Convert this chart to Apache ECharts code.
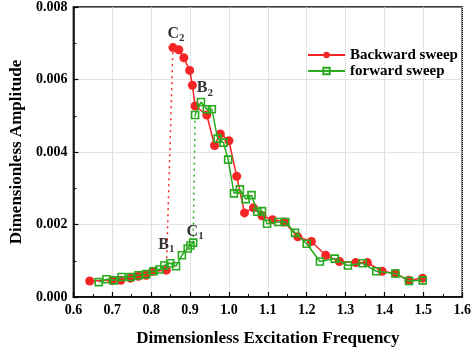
<!DOCTYPE html>
<html>
<head>
<meta charset="utf-8">
<script src="https://cdn.jsdelivr.net/npm/echarts@6/dist/echarts.min.js"></script>
<style>
  html, body { margin: 0; padding: 0; background: #fff; }
  #chart { width: 474px; height: 352px; }
</style>
</head>
<body>
<div id="chart"></div>
<script>
  // backward sweep, lower branch (0.64 -> B1)
  var backLowF = [0.642, 0.700, 0.722, 0.747, 0.767, 0.787, 0.804, 0.839];
  var backLowA = [0.00044, 0.00046, 0.00046, 0.00052, 0.00057, 0.00060, 0.00071, 0.00074];
  // backward sweep, upper branch (C2 -> 1.5)
  var backHighF = [0.856, 0.871, 0.884, 0.899, 0.906, 0.913, 0.943, 0.963, 0.978, 1.000, 1.020, 1.040,
    1.063, 1.085, 1.112, 1.142, 1.177, 1.212, 1.249, 1.284, 1.326, 1.356, 1.394, 1.428, 1.463, 1.498];
  var backHighA = [0.00688, 0.00682, 0.00660, 0.00625, 0.00584, 0.00527, 0.00502, 0.00418, 0.00450, 0.00431, 0.00333, 0.00232,
    0.00246, 0.00224, 0.00213, 0.00207, 0.00166, 0.00153, 0.00115, 0.00098, 0.00095, 0.00095, 0.00071, 0.00065, 0.00046, 0.00052];
  // forward sweep, lower branch (0.66 -> C1)
  var fwdLowF = [0.665, 0.685, 0.704, 0.724, 0.747, 0.767, 0.787, 0.806, 0.821, 0.834, 0.849, 0.864, 0.879, 0.894, 0.901, 0.908];
  var fwdLowA = [0.00041, 0.00049, 0.00046, 0.00055, 0.00055, 0.00060, 0.00063, 0.00071, 0.00076, 0.00087, 0.00093, 0.00085, 0.00115, 0.00134, 0.00142, 0.00150];
  // forward sweep, upper branch (after jump -> 1.5)
  var fwdHighF = [0.913, 0.928, 0.943, 0.956, 0.971, 0.986, 0.998, 1.013, 1.028, 1.043, 1.058, 1.073, 1.085,
    1.098, 1.127, 1.145, 1.170, 1.200, 1.234, 1.272, 1.306, 1.344, 1.379, 1.428, 1.463, 1.498];
  var fwdHighA = [0.00502, 0.00538, 0.00518, 0.00518, 0.00437, 0.00426, 0.00379, 0.00286, 0.00297, 0.00270, 0.00281, 0.00235, 0.00237,
    0.00202, 0.00207, 0.00207, 0.00177, 0.00147, 0.00098, 0.00106, 0.00087, 0.00093, 0.00071, 0.00065, 0.00044, 0.00046];
  // point labels
  var noteMain = ['C', 'B', 'B', 'C'];
  var noteSub = ['2', '2', '1', '1'];
  var noteF = [0.864, 0.938, 0.839, 0.913];
  var noteA = [0.00726, 0.00576, 0.00145, 0.00180];

  var xTicks = ['0.6', '0.7', '0.8', '0.9', '1.0', '1.1', '1.2', '1.3', '1.4', '1.5', '1.6'];
  var yTicks = ['0.000', '0.002', '0.004', '0.006', '0.008'];

  var RED = '#f52525';
  var GREEN = '#2aaa1e';
  var FONT = '"Liberation Serif", "Times New Roman", serif';

  function pairs(xs, ys) {
    return xs.map(function (x, i) { return [x, ys[i]]; });
  }

  var myChart = echarts.init(document.getElementById('chart'));

  var redStyle = {
    type: 'line', name: 'Backward sweep', symbol: 'circle', symbolSize: 9,
    lineStyle: { color: RED, width: 1.5 },
    itemStyle: { color: RED },
    z: 2
  };
  var greenStyle = {
    type: 'line', name: 'forward sweep', symbol: 'rect', symbolSize: 7,
    lineStyle: { color: GREEN, width: 1.5 },
    itemStyle: { color: 'rgba(255,255,255,0)', borderColor: GREEN, borderWidth: 1.6 },
    z: 3
  };

  myChart.setOption({
    animation: false,
    backgroundColor: '#fff',
    grid: {
      left: 63, right: 9, top: 6, bottom: 53,
      show: true, borderColor: '#000', borderWidth: 1.5, backgroundColor: 'transparent'
    },
    legend: {
      data: [
        { name: 'Backward sweep' },
        { name: 'forward sweep' }
      ],
      orient: 'vertical',
      left: 302, top: 42,
      itemWidth: 37, itemHeight: 8, itemGap: 0,
      textStyle: { fontFamily: FONT, fontWeight: 'bold', fontSize: 15, color: '#000', lineHeight: 16 }
    },
    xAxis: {
      type: 'value', min: 0.6, max: 1.6, interval: 0.1,
      name: 'Dimensionless Excitation Frequency',
      nameLocation: 'middle', nameGap: 33,
      nameTextStyle: { fontFamily: FONT, fontWeight: 'bold', fontSize: 17, color: '#000' },
      axisLine: { lineStyle: { color: '#000', width: 1.5 } },
      axisTick: { inside: true, length: 5, lineStyle: { color: '#000', width: 1.2 } },
      minorTick: { show: true, splitNumber: 2, length: 3, lineStyle: { color: '#000', width: 1 } },
      axisLabel: {
        fontFamily: FONT, fontWeight: 'bold', fontSize: 14, color: '#000', margin: 6,
        formatter: function (v) { return xTicks[Math.round((v - 0.6) * 10)]; }
      },
      splitLine: { show: true, lineStyle: { color: '#c8c8c8', type: 'dotted', width: 1 } }
    },
    yAxis: {
      type: 'value', min: 0, max: 0.008, interval: 0.002,
      name: 'Dimensionless Amplitude',
      nameLocation: 'middle', nameGap: 48,
      nameTextStyle: { fontFamily: FONT, fontWeight: 'bold', fontSize: 17, color: '#000' },
      axisLine: { show: true, lineStyle: { color: '#000', width: 1.5 } },
      axisTick: { show: true, inside: true, length: 5, lineStyle: { color: '#000', width: 1.2 } },
      minorTick: { show: true, splitNumber: 2, length: 3, lineStyle: { color: '#000', width: 1 } },
      axisLabel: {
        fontFamily: FONT, fontWeight: 'bold', fontSize: 14, color: '#000', margin: 6,
        formatter: function (v) { return yTicks[Math.round(v / 0.002)]; }
      },
      splitLine: { show: true, lineStyle: { color: '#c8c8c8', type: 'dotted', width: 1 } }
    },
    series: [
      // jump lines (dotted)
      {
        type: 'line', name: 'jump down', symbol: 'none', silent: true, z: 1,
        lineStyle: { color: RED, width: 1.5, type: [2, 4] },
        data: [[backLowF[backLowF.length - 1], backLowA[backLowA.length - 1]], [backHighF[0], backHighA[0]]]
      },
      {
        type: 'line', name: 'jump up', symbol: 'none', silent: true, z: 1,
        lineStyle: { color: GREEN, width: 1.5, type: [2, 4] },
        data: [[fwdLowF[fwdLowF.length - 1], fwdLowA[fwdLowA.length - 1]], [fwdHighF[0], fwdHighA[0]]]
      },
      Object.assign({}, redStyle, { data: pairs(backLowF, backLowA) }),
      Object.assign({}, redStyle, { data: pairs(backHighF, backHighA) }),
      Object.assign({}, greenStyle, { data: pairs(fwdLowF, fwdLowA) }),
      Object.assign({}, greenStyle, { data: pairs(fwdHighF, fwdHighA) }),
      // C1, C2, B1, B2 labels
      {
        type: 'scatter', name: 'notes', symbolSize: 0, silent: true, z: 5,
        data: noteF.map(function (f, i) { return { value: [f, noteA[i]], main: noteMain[i], sub: noteSub[i] }; }),
        label: {
          show: true, position: 'inside',
          formatter: function (p) { return '{m|' + p.data.main + '}{s|' + p.data.sub + '}'; },
          rich: {
            m: { fontFamily: FONT, fontWeight: 'bold', fontSize: 16, color: '#000' },
            s: { fontFamily: FONT, fontWeight: 'bold', fontSize: 11, color: '#000', padding: [9, 0, 0, 0] }
          }
        }
      }
    ]
  });
</script>
</body>
</html>
